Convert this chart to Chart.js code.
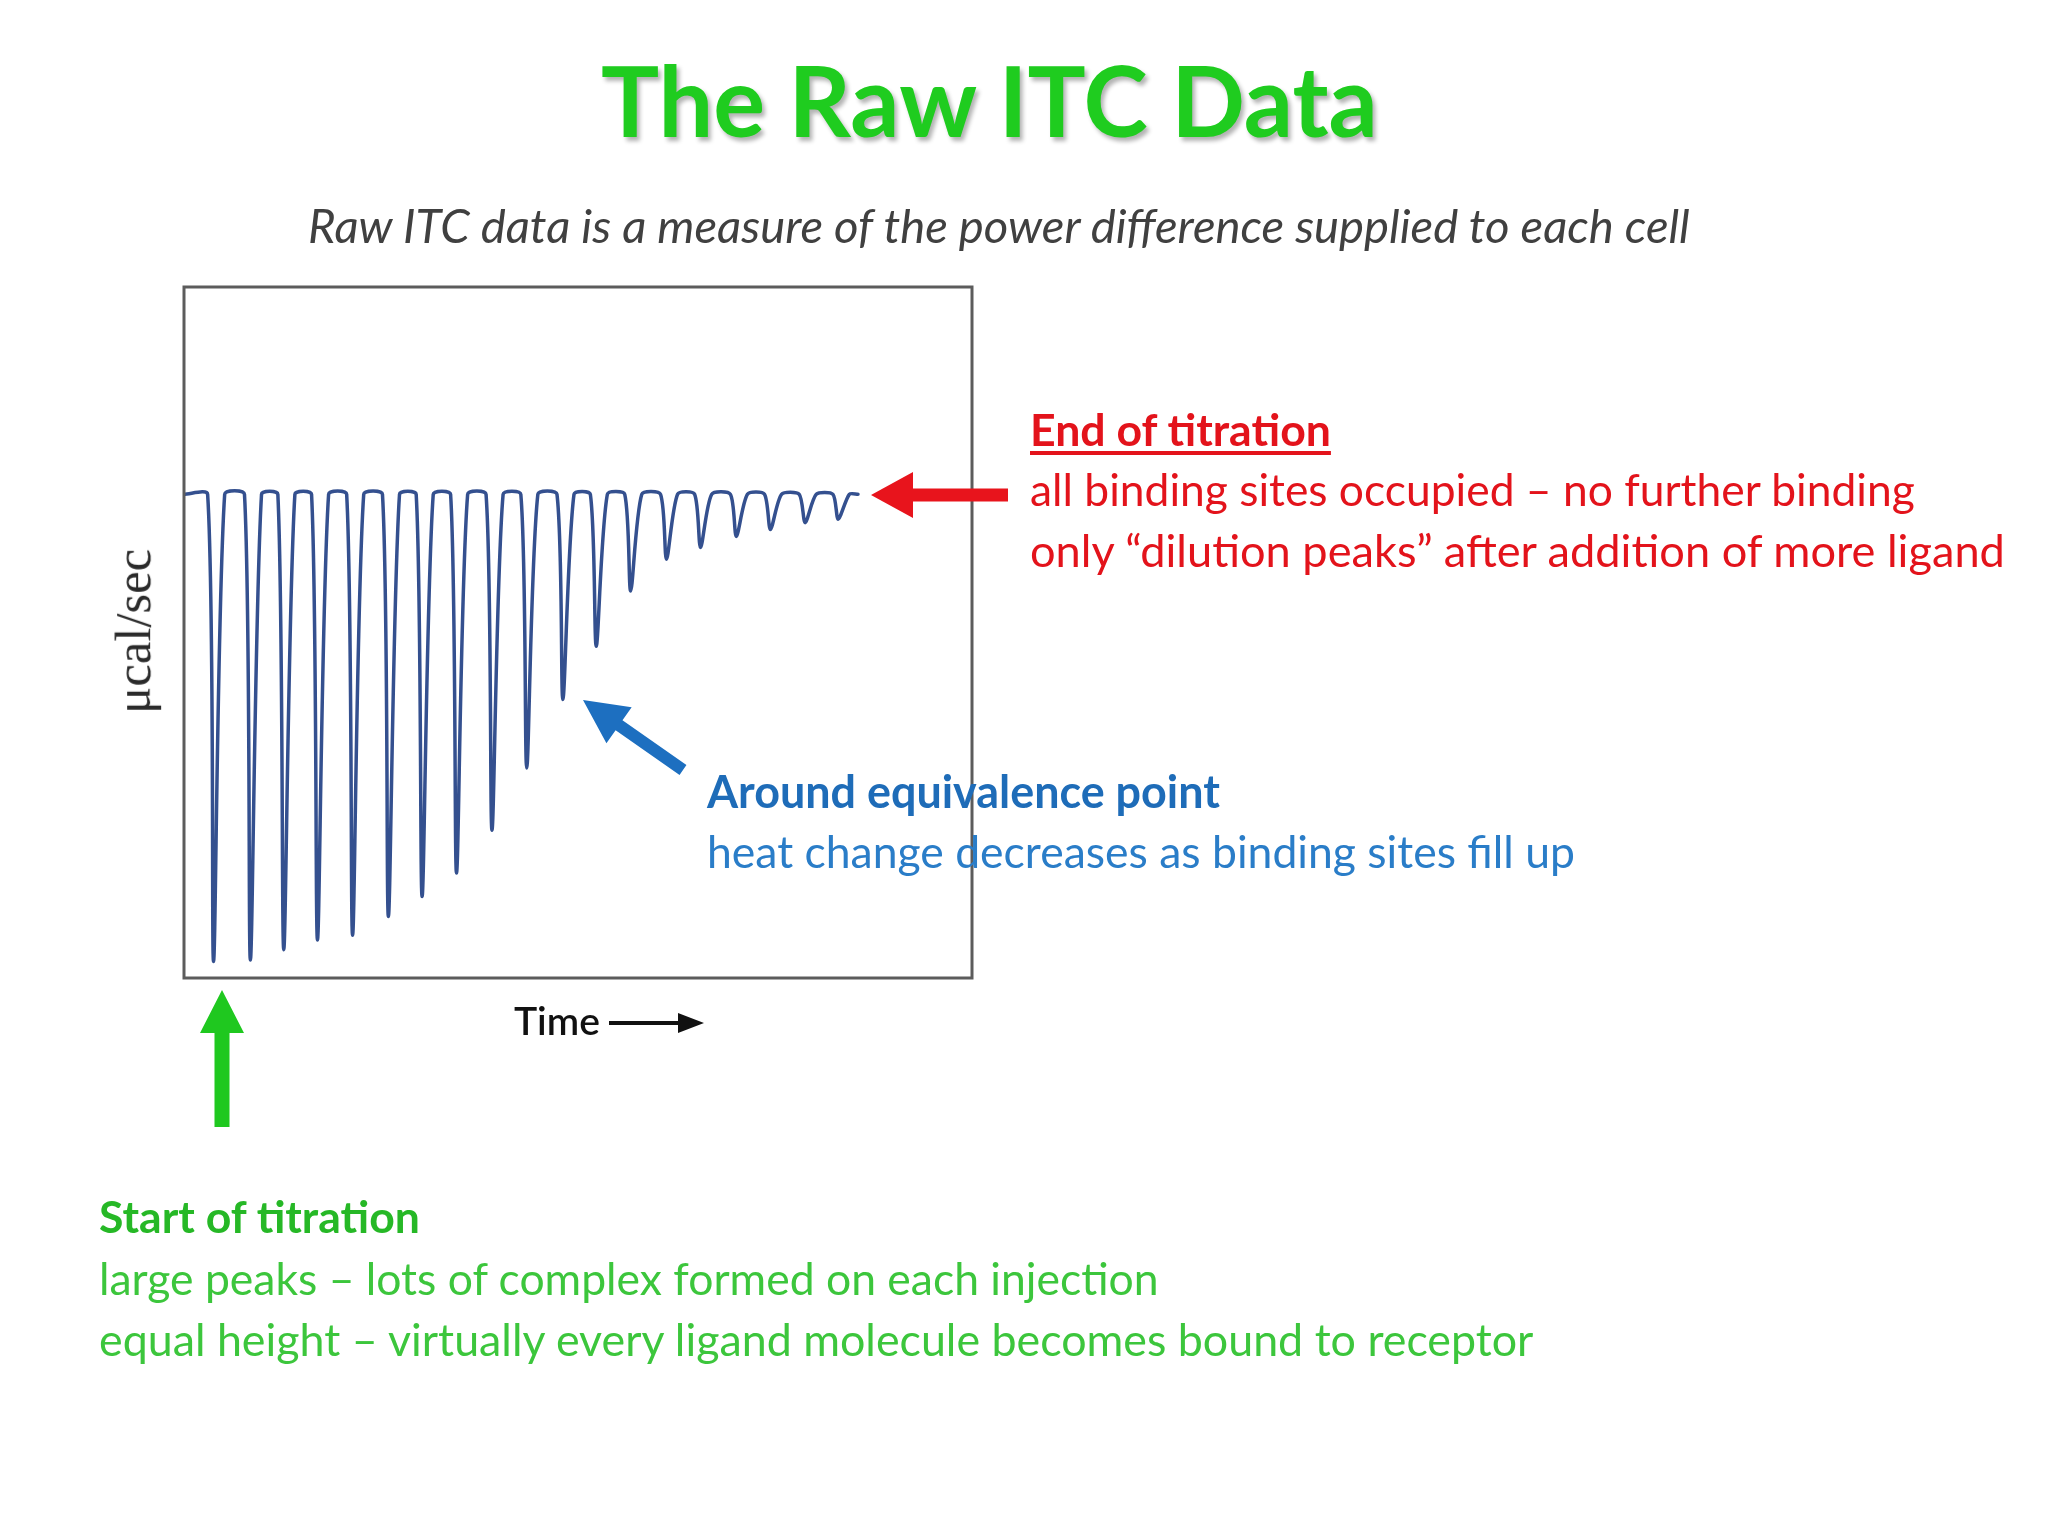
<!DOCTYPE html>
<html>
<head>
<meta charset="utf-8">
<title>The Raw ITC Data</title>
<script src="https://cdn.jsdelivr.net/npm/chart.js@4"></script>
<style>
  html, body { margin: 0; padding: 0; background: #fff; }
  body { width: 2048px; height: 1536px; position: relative; overflow: hidden; }
  #itcChart { position: absolute; left: 0; top: 0; }
  .lbl { position: absolute; white-space: nowrap; line-height: 1; font-family: Lato, "Open Sans", sans-serif; z-index: 2; }
  .b { font-weight: bold; }
  .title { color: #1fcc1f; text-shadow: 3px 4px 4px rgba(0,0,0,0.3); }
  .sub { color: #404040; font-style: italic; }
  .red { color: #e3131b; }
  .blue1 { color: #1e6cb8; }
  .blue2 { color: #2a7dc8; }
  .green1 { color: #26b826; }
  .green2 { color: #3cc63c; }
  .time { color: #111; font-weight: 600; }
  #ylabel { position: absolute; white-space: nowrap; line-height: 1; font-family: "Liberation Serif", "DejaVu Serif", serif; color: #2a2a2a; font-size: 46px; z-index: 2; }
</style>
</head>
<body>
<canvas id="itcChart" width="2048" height="1536"></canvas>

<div class="lbl b title" data-x="601" data-base="137" data-w="777" style="font-size:110px">The Raw ITC Data</div>
<div class="lbl sub" data-x="308" data-base="243" data-w="1382" style="font-size:40px">Raw ITC data is a measure of the power difference supplied to each cell</div>

<div class="lbl b red" data-x="1030" data-base="447" data-w="301" style="font-size:40px;text-decoration:underline;text-underline-offset:5px">End of titration</div>
<div class="lbl red" data-x="1030" data-base="506" data-w="885" style="font-size:40px">all binding sites occupied – no further binding</div>
<div class="lbl red" data-x="1030" data-base="567" data-w="975" style="font-size:40px">only “dilution peaks” after addition of more ligand</div>

<div class="lbl b blue1" data-x="707" data-base="809" data-w="513" style="font-size:40px">Around equivalence point</div>
<div class="lbl blue2" data-x="707" data-base="868" data-w="868" style="font-size:40px">heat change decreases as binding sites fill up</div>

<div class="lbl b green1" data-x="99" data-base="1234" data-w="321" style="font-size:40px">Start of titration</div>
<div class="lbl green2" data-x="99" data-base="1295" data-w="1060" style="font-size:40px">large peaks – lots of complex formed on each injection</div>
<div class="lbl green2" data-x="99" data-base="1357" data-w="1435" style="font-size:40px">equal height – virtually every ligand molecule becomes bound to receptor</div>

<div class="lbl time" data-x="514" data-base="1035" data-w="86" style="font-size:40px">Time</div>
<div id="ylabel">μcal/sec</div>

<script>
// Raw ITC trace (time in injection intervals, signal in µcal/sec, baseline = 0)
const traceStart = 0;
const traceEnd = 19.39;
const injectionStart = [0.68, 1.74, 2.70, 3.67, 4.68, 5.71, 6.68, 7.67, 8.69, 9.69, 10.73, 11.69, 12.68, 13.71, 14.69, 15.72, 16.70, 17.70, 18.67];
const peakTime = [0.85, 1.91, 2.87, 3.84, 4.85, 5.88, 6.85, 7.84, 8.86, 9.86, 10.90, 11.86, 12.85, 13.88, 14.86, 15.89, 16.87, 17.87, 18.82];
const peakSignal = [-6.76, -6.74, -6.59, -6.45, -6.38, -6.11, -5.82, -5.48, -4.86, -3.96, -2.97, -2.20, -1.40, -0.94, -0.77, -0.61, -0.51, -0.41, -0.36];
const recoveryEnd = [1.17, 2.23, 3.19, 4.16, 5.17, 6.20, 7.17, 8.16, 9.18, 10.18, 11.22, 12.18, 13.17, 14.20, 15.18, 16.21, 17.19, 18.19, 19.14];
const baseline = 0;

// axis ranges (axes themselves are not shown)
const timeMin = 0;
const timeMax = 22.67;
const signalMin = -7;
const signalMax = 3;

// --- place the text labels ---
function placeLabels() {
    document.querySelectorAll('.lbl').forEach(el => {
        let fs = parseFloat(el.style.fontSize);
        const target = parseFloat(el.dataset.w);
        const w = el.getBoundingClientRect().width;
        fs = fs * target / w;
        el.style.fontSize = fs + 'px';
        el.style.left = el.dataset.x + 'px';
        el.style.top = (parseFloat(el.dataset.base) - 0.887 * fs) + 'px';
    });
    // rotated y-axis title
    const yl = document.getElementById('ylabel');
    let r = yl.getBoundingClientRect();
    yl.style.fontSize = (46 * 165 / r.width) + 'px';
    r = yl.getBoundingClientRect();
    yl.style.left = (133 - r.width / 2) + 'px';
    yl.style.top = (631 - r.height / 2) + 'px';
    yl.style.transform = 'rotate(-90deg)';
}

// --- build the trace ---
const tracePoints = [{ x: traceStart, y: baseline }];
peakTime.forEach((t, i) => {
    tracePoints.push({ x: injectionStart[i], y: baseline });
    tracePoints.push({ x: t, y: peakSignal[i] });
    tracePoints.push({ x: recoveryEnd[i], y: baseline });
});
tracePoints.push({ x: traceEnd, y: baseline });

function drawArrow(ctx, x1, y1, x2, y2, shaft, headLen, headHalf, color) {
    const ang = Math.atan2(y2 - y1, x2 - x1);
    const len = Math.hypot(x2 - x1, y2 - y1);
    ctx.save();
    ctx.translate(x1, y1);
    ctx.rotate(ang);
    ctx.fillStyle = color;
    ctx.beginPath();
    ctx.moveTo(0, -shaft / 2);
    ctx.lineTo(len - headLen, -shaft / 2);
    ctx.lineTo(len - headLen, -headHalf);
    ctx.lineTo(len, 0);
    ctx.lineTo(len - headLen, headHalf);
    ctx.lineTo(len - headLen, shaft / 2);
    ctx.lineTo(0, shaft / 2);
    ctx.closePath();
    ctx.fill();
    ctx.restore();
}

// frame round the plot + the annotation arrows
const frameAndArrows = {
    id: 'frameAndArrows',
    afterDraw(chart) {
        const { ctx, chartArea: a } = chart;
        ctx.save();
        ctx.strokeStyle = '#5c5c5c';
        ctx.lineWidth = 3;
        ctx.strokeRect(a.left, a.top, a.right - a.left, a.bottom - a.top);
        ctx.restore();

        drawArrow(ctx, 1008, 495, 871, 495, 13, 42, 23, '#e8141c');   // end of titration
        drawArrow(ctx, 683, 770, 583, 700, 12, 44, 22, '#1d6fc0');    // equivalence point
        drawArrow(ctx, 222, 1127, 222, 990, 15, 43, 22, '#1fc81f');   // start of titration
        drawArrow(ctx, 609, 1023, 704, 1023, 4, 26, 10, '#111111');   // time
    }
};

window.addEventListener('load', () => {
    placeLabels();

    new Chart(document.getElementById('itcChart'), {
        type: 'line',
        data: {
            datasets: [{
                label: 'Raw ITC',
                data: tracePoints,
                borderColor: '#34508f',
                borderWidth: 3.5,
                pointRadius: 0,
                fill: false,
                tension: 0.25,
                borderJoinStyle: 'round',
                borderCapStyle: 'round'
            }]
        },
        options: {
            responsive: false,
            animation: false,
            devicePixelRatio: 1,
            layout: {
                padding: { left: 184, top: 287, right: 2048 - 972, bottom: 1536 - 978 }
            },
            scales: {
                x: { type: 'linear', min: timeMin, max: timeMax, display: false },
                y: { min: signalMin, max: signalMax, display: false }
            },
            plugins: {
                legend: { display: false },
                tooltip: { enabled: false }
            }
        },
        plugins: [frameAndArrows]
    });
});
</script>
</body>
</html>
